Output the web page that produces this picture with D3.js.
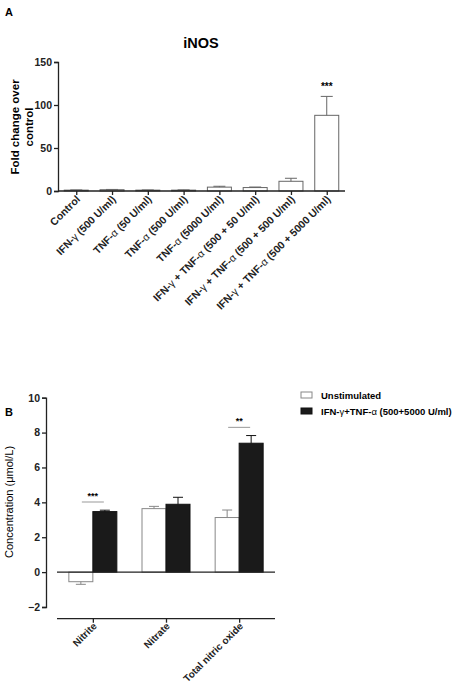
<!DOCTYPE html>
<html lang="en">
<head>
  <meta charset="UTF-8">
  <title>iNOS and nitric oxide</title>
  <script src="https://d3js.org/d3.v7.min.js"></script>
  <style>
    body { margin: 0; background: #fff; }
    svg { font-family: "Liberation Sans", Arial, sans-serif; }
    .tick text { font-weight: bold; font-size: 10.5px; fill: #222; }
    .domain, .tick line { stroke: #222; stroke-width: 1.3px; }
  </style>
</head>
<body>
  <div id="chart"></div>
  <script>
    // panel A: iNOS fold change
    const catsA = ["Control", "IFN-γ (500 U/ml)", "TNF-α (50 U/ml)", "TNF-α (500 U/ml)",
      "TNF-α (5000 U/ml)", "IFN-γ + TNF-α (500 + 50 U/ml)", "IFN-γ + TNF-α (500 + 500 U/ml)",
      "IFN-γ + TNF-α (500 + 5000 U/ml)"];
    const meanA = [1, 1.5, 1, 1, 4.5, 4, 11.3, 88];
    const semA = [0.2, 0.3, 0.2, 0.3, 1, 0.6, 3.5, 22];
    const sigA = ["", "", "", "", "", "", "", "***"];
    const ticksA = [0, 50, 100, 150];

    // panel B: nitrite / nitrate concentrations
    const catsB = ["Nitrite", "Nitrate", "Total nitric oxide"];
    const seriesB = ["Unstimulated", "IFN-γ+TNF-α (500+5000 U/ml)"];
    const unstim = [-0.55, 3.64, 3.13];
    const unstimSem = [0.15, 0.13, 0.43];
    const stim = [3.47, 3.89, 7.39];
    const stimSem = [0.08, 0.4, 0.44];
    const sigB = ["***", "", "**"];
    const sigLineB = [4.02, null, 8.3];
    const ticksB = [-2, 0, 2, 4, 6, 8, 10];

    const width = 455, height = 685;
    const svg = d3.select("#chart").append("svg")
      .attr("width", width).attr("height", height);

    // greek letters are drawn in a plain weight, like in the original
    function greekText(sel, str) {
      sel.text(null);
      str.split(/([γα])/).forEach(part => {
        if (!part) return;
        const t = sel.append("tspan").text(part);
        if (part === "γ" || part === "α") t.style("font-weight", "normal");
      });
    }

    // ---------- panel A ----------
    svg.append("text").attr("x", 5).attr("y", 16)
      .attr("font-size", 11).attr("font-weight", "bold").text("A");

    const xA = d3.scalePoint().domain(catsA).range([58, 345]).padding(0.51);
    const yA = d3.scaleLinear().domain([0, 150]).range([191, 62]);
    const barW = 24;

    svg.append("text").attr("x", 201).attr("y", 48).attr("text-anchor", "middle")
      .attr("font-size", 14.5).attr("font-weight", "bold").text("iNOS");

    const gA = svg.append("g");
    gA.selectAll(".barA").data(catsA).enter().append("rect")
      .attr("x", d => xA(d) - barW / 2)
      .attr("y", (d, i) => yA(meanA[i]))
      .attr("width", barW)
      .attr("height", (d, i) => yA(0) - yA(meanA[i]))
      .attr("fill", "#fff").attr("stroke", "#666").attr("stroke-width", 1);

    gA.selectAll(".errA").data(catsA).enter().append("path")
      .attr("d", (d, i) => {
        const x = xA(d), y0 = yA(meanA[i]), y1 = yA(meanA[i] + semA[i]);
        return `M${x},${y0}V${y1}M${x - 6},${y1}H${x + 6}`;
      })
      .attr("fill", "none").attr("stroke", "#666");

    gA.selectAll(".sigA").data(catsA).enter().append("text")
      .attr("x", d => xA(d))
      .attr("y", (d, i) => yA(meanA[i] + semA[i]) - 6)
      .attr("text-anchor", "middle").attr("font-size", 10).attr("font-weight", "bold")
      .text((d, i) => sigA[i]);

    svg.append("g").attr("transform", "translate(58,0)")
      .call(d3.axisLeft(yA).tickValues(ticksA).tickSize(4).tickPadding(2));

    const axA = svg.append("g").attr("transform", "translate(0,191)")
      .call(d3.axisBottom(xA).tickSize(4).tickSizeOuter(0));
    axA.select(".domain").attr("d", "M58,0H345");
    axA.selectAll(".tick text")
      .attr("text-anchor", "end")
      .attr("dx", 0).attr("dy", 0).attr("y", 0)
      .attr("transform", "translate(4,9) rotate(-45)")
      .each(function (d) { greekText(d3.select(this), d); });

    svg.append("text")
      .attr("transform", "translate(19,127) rotate(-90)")
      .attr("text-anchor", "middle").attr("font-size", 11.5).attr("font-weight", "bold")
      .selectAll("tspan").data(["Fold change over", "control"]).enter().append("tspan")
      .attr("x", 0).attr("dy", (d, i) => i === 0 ? 0 : 14).text(d => d);

    // ---------- panel B ----------
    svg.append("text").attr("x", 5).attr("y", 416)
      .attr("font-size", 11).attr("font-weight", "bold").text("B");

    const xB = d3.scalePoint().domain(catsB).range([57, 275]).padding(0.49);
    const yB = d3.scaleLinear().domain([-2, 10]).range([607, 397.7]);
    const colors = ["#fff", "#1a1a1a"];
    const strokes = ["#888", "#111"];

    const groups = [
      { vals: unstim, sem: unstimSem, off: -barW },
      { vals: stim, sem: stimSem, off: 0 }
    ];

    groups.forEach((s, si) => {
      svg.append("g").selectAll("rect").data(catsB).enter().append("rect")
        .attr("x", d => xB(d) + s.off)
        .attr("y", (d, i) => yB(Math.max(0, s.vals[i])))
        .attr("width", barW)
        .attr("height", (d, i) => Math.abs(yB(s.vals[i]) - yB(0)))
        .attr("fill", colors[si]).attr("stroke", strokes[si]).attr("stroke-width", 1);

      svg.append("g").selectAll("path").data(catsB).enter().append("path")
        .attr("d", (d, i) => {
          const v = s.vals[i];
          const x = xB(d) + s.off + barW / 2;
          const y0 = yB(v), y1 = yB(v < 0 ? v - s.sem[i] : v + s.sem[i]);
          return `M${x},${y0}V${y1}M${x - 5},${y1}H${x + 5}`;
        })
        .attr("fill", "none").attr("stroke", strokes[si]);
    });

    // zero line
    svg.append("path").attr("d", `M57,${yB(0)}H275`)
      .attr("stroke", "#222").attr("stroke-width", 1.3);

    // significance marks
    catsB.forEach((c, i) => {
      if (!sigB[i]) return;
      const ly = yB(sigLineB[i]);
      svg.append("path").attr("d", `M${xB(c) - 11},${ly}H${xB(c) + 11}`)
        .attr("stroke", "#999").attr("stroke-width", 1);
      svg.append("text").attr("x", xB(c)).attr("y", ly - 3)
        .attr("text-anchor", "middle").attr("font-size", 9).attr("font-weight", "bold")
        .text(sigB[i]);
    });

    svg.append("g").attr("transform", "translate(46,0)")
      .call(d3.axisLeft(yB).tickValues(ticksB).tickSize(4).tickPadding(2));

    const axB = svg.append("g").attr("transform", "translate(0,618.7)")
      .call(d3.axisBottom(xB).tickSize(4).tickSizeOuter(0));
    axB.select(".domain").attr("d", "M57,0H275");
    axB.selectAll(".tick text")
      .style("font-size", "10px")
      .attr("text-anchor", "end")
      .attr("dx", 0).attr("dy", 0).attr("y", 0)
      .attr("transform", "translate(4,8) rotate(-45)");

    svg.append("text")
      .attr("transform", "translate(13,502) rotate(-90)")
      .attr("text-anchor", "middle").attr("font-size", 11)
      .text("Concentration (μmol/L)");

    // legend
    const leg = svg.append("g").attr("transform", "translate(301,392)");
    seriesB.forEach((s, i) => {
      leg.append("rect").attr("x", 0).attr("y", i * 16).attr("width", 11).attr("height", 6)
        .attr("fill", colors[i]).attr("stroke", strokes[i]).attr("stroke-width", 1);
      const t = leg.append("text").attr("x", 20).attr("y", i * 16 + 6.5)
        .attr("font-size", 9.5).attr("font-weight", "bold");
      greekText(t, s);
    });
  </script>
</body>
</html>
